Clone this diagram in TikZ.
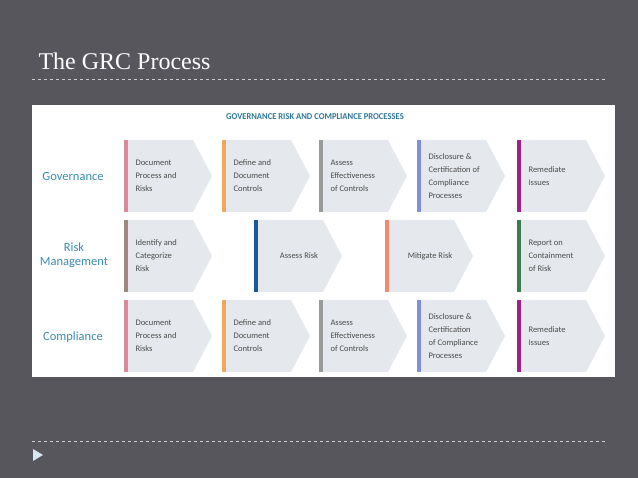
\documentclass[tikz,border=0pt]{standalone}
\usepackage{fontspec}
\setmainfont{Liberation Serif}
\newfontfamily\cb{Carlito}
\definecolor{bg}{HTML}{56565C}
\definecolor{lab}{HTML}{3A8DB2}
\definecolor{chev}{HTML}{E5E8EC}
\definecolor{cA}{HTML}{D98A9C}
\definecolor{cB}{HTML}{EFA860}
\definecolor{cC}{HTML}{9A9A9A}
\definecolor{cD}{HTML}{7F8FD8}
\definecolor{cE}{HTML}{A0208A}
\definecolor{cF}{HTML}{A08880}
\definecolor{cG}{HTML}{1A5A98}
\definecolor{cH}{HTML}{F08A70}
\definecolor{cI}{HTML}{3A7A50}
\tikzset{
  rowlab/.style={text=lab,font=\cb\fontsize{12.5}{14}\selectfont,align=center},
  ctext/.style={text=black!70,font=\cb\fontsize{8.5}{13}\selectfont,align=left,anchor=west},
  dline/.style={draw=white!70!bg,dashed,line width=0.6pt}
}
\newcommand{\chevr}[5]{%
  \fill[chev] (#1,#2) -- (#1+68,#2) -- (#1+87,#2+36) -- (#1+68,#2+72) -- (#1,#2+72) -- cycle;
  \fill[#3] (#1-1,#2) rectangle (#1+3,#2+72);
  \node[ctext] (#5) at (#1+7,#2+36) {#4};}
\newcommand{\chevc}[5]{%
  \fill[chev] (#1,#2) -- (#1+68,#2) -- (#1+87,#2+36) -- (#1+68,#2+72) -- (#1,#2+72) -- cycle;
  \fill[#3] (#1-1,#2) rectangle (#1+3,#2+72);
  \node[text=black!70,font=\cb\fontsize{8.5}{13}\selectfont] (#5) at (#1+44,#2+36) {#4};}
\begin{document}
\begin{tikzpicture}[x=1pt,y=-1pt]
\fill[bg] (0,0) rectangle (638,478);
\useasboundingbox (0,0) rectangle (638,478);
\node[anchor=west,text=white,font=\fontsize{24}{26}\selectfont] (title) at (35,61) {The GRC Process};
\draw[dline] (32,79) -- (606,79);
\draw[dline] (32,441) -- (606,441);
\fill[white!80!lab] (33,449) -- (43,455) -- (33,461) -- cycle;
\fill[white] (32,105) rectangle (615,377);
\node[text=lab!85!black,font=\cb\bfseries\fontsize{9}{10}\selectfont,xscale=0.95] (ptitle) at (315,117) {GOVERNANCE RISK AND COMPLIANCE PROCESSES};
\node[rowlab] (gov) at (73,176) {Governance};
\node[rowlab] (risk) at (74,255) {Risk\\Management};
\node[rowlab] (comp) at (73,337) {Compliance};
\chevr{125}{140}{cA}{Document\\Process and\\Risks}{g1}
\chevr{223}{140}{cB}{Define and\\Document\\Controls}{g2}
\chevr{320}{140}{cC}{Assess\\Effectiveness\\of Controls}{g3}
\chevr{418}{140}{cD}{Disclosure \&\\Certification of\\Compliance\\Processes}{g4}
\chevr{518}{140}{cE}{Remediate\\Issues}{g5}
\chevr{125}{220}{cF}{Identify and\\Categorize\\Risk}{r1}
\chevc{255}{220}{cG}{Assess Risk}{r2}
\chevc{386}{220}{cH}{Mitigate Risk}{r3}
\chevr{518}{220}{cI}{Report on\\Containment\\of Risk}{r4}
\chevr{125}{300}{cA}{Document\\Process and\\Risks}{c1}
\chevr{223}{300}{cB}{Define and\\Document\\Controls}{c2}
\chevr{320}{300}{cC}{Assess\\Effectiveness\\of Controls}{c3}
\chevr{418}{300}{cD}{Disclosure \&\\Certification\\of Compliance\\Processes}{c4}
\chevr{518}{300}{cE}{Remediate\\Issues}{c5}
\end{tikzpicture}
\end{document}
